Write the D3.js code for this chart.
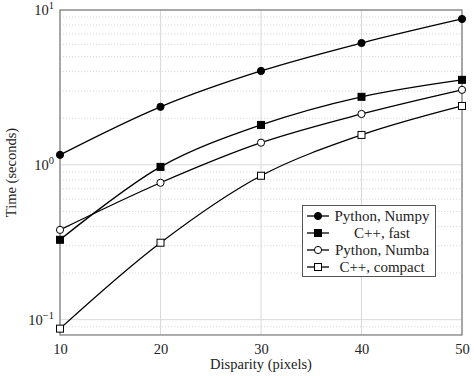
<!DOCTYPE html>
<html><head><meta charset="utf-8">
<script src="https://cdn.jsdelivr.net/npm/d3@7"></script>
<style>body{margin:0;background:#fff}svg{display:block}text{font-family:"Liberation Serif","DejaVu Serif",serif;fill:#222}</style>
</head><body><svg id="c" width="474" height="376"></svg>
<script>
const disparity = [10, 20, 30, 40, 50];
const seriesNames = ["Python, Numpy", "C++, fast", "Python, Numba", "C++, compact"];
const pythonNumpy = [1.16, 2.37, 4.04, 6.12, 8.75];
const cppFast = [0.328, 0.97, 1.81, 2.75, 3.54];
const pythonNumba = [0.38, 0.766, 1.39, 2.13, 3.05];
const cppCompact = [0.0875, 0.314, 0.85, 1.56, 2.40];
const xTicks = [10, 20, 30, 40, 50];
const yTickExps = [-1, 0, 1];

const svg = d3.select("#c");
const L = 60, R = 462, T = 10, B = 335;
const x = d3.scaleLinear().domain([10, 50]).range([L, R]);
const y = d3.scaleLog().domain([0.0796, 10]).range([B, T]);

// minor grid
const minors = [];
for (let e = -2; e <= 0; e++) for (let m = 2; m <= 9; m++) { const v = m * Math.pow(10, e); if (v > 0.0796 && v < 10) minors.push(v); }
svg.append("g").selectAll("line").data(minors).join("line")
  .attr("x1", L).attr("x2", R).attr("y1", d => y(d)).attr("y2", d => y(d))
  .attr("stroke", "#cfcfcf").attr("stroke-width", 0.8).attr("stroke-dasharray", "1.2,1.8");
// major grid
svg.append("g").selectAll("line").data(yTickExps).join("line")
  .attr("x1", L).attr("x2", R).attr("y1", d => y(Math.pow(10, d))).attr("y2", d => y(Math.pow(10, d)))
  .attr("stroke", "#d9d9d9").attr("stroke-width", 1);
svg.append("g").selectAll("line").data(xTicks).join("line")
  .attr("x1", d => x(d)).attr("x2", d => x(d)).attr("y1", T).attr("y2", B)
  .attr("stroke", "#d9d9d9").attr("stroke-width", 1);

// axes via d3
const xAxis = svg.append("g").attr("transform", `translate(0,${B})`)
  .call(d3.axisBottom(x).tickValues(xTicks).tickSize(0).tickPadding(9).tickFormat(d3.format("d")));
xAxis.select(".domain").remove();
xAxis.selectAll("text").attr("font-size", 14.5).style("font-family", "Liberation Serif");

const yAxis = svg.append("g").attr("transform", `translate(${L},0)`)
  .call(d3.axisLeft(y).tickValues(yTickExps.map(e => Math.pow(10, e))).tickSize(0).tickPadding(6).tickFormat(""));
yAxis.select(".domain").remove();
yAxis.selectAll(".tick").each(function(d) {
  const e = Math.round(Math.log10(d));
  const t = d3.select(this).select("text").text(null).attr("font-size", 14.5).attr("x", -6).attr("dy", "0.32em").style("font-family", "Liberation Serif");
  t.append("tspan").text("10");
  t.append("tspan").attr("font-size", 10.5).attr("dy", "-0.55em").text(e < 0 ? "\u2212" + (-e) : String(e));
});

// frame
svg.append("rect").attr("x", L).attr("y", T).attr("width", R - L).attr("height", B - T)
  .attr("fill", "none").attr("stroke", "#7a7a7a").attr("stroke-width", 1.2);

// labels
svg.append("text").attr("x", (L + R) / 2).attr("y", 369).attr("text-anchor", "middle").attr("font-size", 14.5).text("Disparity (pixels)");
svg.append("text").attr("transform", `translate(16,${(T + B) / 2}) rotate(-90)`).attr("text-anchor", "middle").attr("font-size", 14.5).text("Time (seconds)");

// series
const allSeries = [pythonNumpy, cppFast, pythonNumba, cppCompact];
const markers = [
  {shape: "circle", fill: "#000"},
  {shape: "square", fill: "#000"},
  {shape: "circle", fill: "#fff"},
  {shape: "square", fill: "#fff"}
];
const line = d3.line().x((d, i) => x(disparity[i])).y(d => y(d)).curve(d3.curveCatmullRom.alpha(0.5));
function drawMarker(g, cx, cy, m) {
  if (m.shape === "circle") g.append("circle").attr("cx", cx).attr("cy", cy).attr("r", 3.6).attr("fill", m.fill).attr("stroke", "#000").attr("stroke-width", 1);
  else g.append("rect").attr("x", cx - 3.5).attr("y", cy - 3.5).attr("width", 7).attr("height", 7).attr("fill", m.fill).attr("stroke", "#000").attr("stroke-width", 1);
}
allSeries.forEach((s, k) => {
  svg.append("path").datum(s).attr("d", line).attr("fill", "none").attr("stroke", "#000").attr("stroke-width", 1.3);
  const g = svg.append("g");
  s.forEach((v, i) => drawMarker(g, x(disparity[i]), y(v), markers[k]));
});

// legend
const lg = svg.append("g");
lg.append("rect").attr("x", 302.5).attr("y", 205.5).attr("width", 133).attr("height", 71).attr("fill", "#fff").attr("stroke", "#555").attr("stroke-width", 1);
seriesNames.forEach((n, i) => {
  const cy = 216 + i * 17;
  lg.append("line").attr("x1", 307).attr("x2", 329).attr("y1", cy).attr("y2", cy).attr("stroke", "#000").attr("stroke-width", 1.3);
  drawMarker(lg, 318, cy, markers[i]);
  lg.append("text").attr("x", 382).attr("y", cy).attr("dy", "0.35em").attr("text-anchor", "middle").attr("font-size", 15).text(n);
});
</script></body></html>
